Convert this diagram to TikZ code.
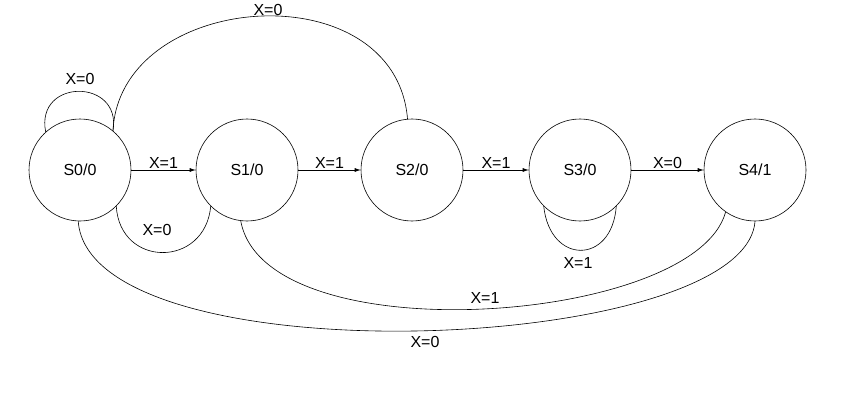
\documentclass[tikz,border=0pt]{standalone}
\usepackage{fontspec}
\setmainfont{Liberation Sans}
\usetikzlibrary{arrows.meta}
\begin{document}
\begin{tikzpicture}[x=1pt,y=-1pt,
  st/.style={circle,draw,minimum size=102pt,inner sep=0pt,font=\fontsize{16}{18}\selectfont},
  lbl/.style={font=\fontsize{16}{18}\selectfont,inner sep=1pt},
  ar/.style={-{Latex[length=6pt,width=4pt]}},
  every path/.style={line width=0.6pt}]
\useasboundingbox (0,0) rectangle (845,401);
\node[st] (s0) at (80,170) {S0/0};
\node[st] (s1) at (247,170) {S1/0};
\node[st] (s2) at (412,170) {S2/0};
\node[st] (s3) at (580,170) {S3/0};
\node[st] (s4) at (755,170) {S4/1};
\draw[ar] (s0) -- node[lbl,above]{X=1} (s1);
\draw[ar] (s1) -- node[lbl,above]{X=1} (s2);
\draw[ar] (s2) -- node[lbl,above]{X=1} (s3);
\draw[ar] (s3) -- node[lbl,above]{X=0} (s4);
% S0 self loop
\draw (s0.132) .. controls (35,78) and (122,78) .. (s0.50);
\node[lbl] (l1) at (80,79) {X=0};
% S0-S1 lower loop
\draw (s0.-45) .. controls (120,268) and (205,268) .. (s1.-135);
\node[lbl] (l2) at (157,230) {X=0};
% S2 to S0 arc
\draw (s2.95) .. controls (395,-30) and (120,-10) .. (s0.50);
\node[lbl] (l3) at (268,10) {X=0};
% S3 self loop
\draw (s3.-135) .. controls (550,265) and (612,265) .. (s3.-45);
\node[lbl] (l4) at (578,263) {X=1};
% S1 to S4
\draw (s1.-97) .. controls (265,355) and (695,325) .. (s4.-125);
\node[lbl] (l5) at (485,298) {X=1};
% S4 to S0
\draw (s4.-90) .. controls (745,355) and (90,380) .. (s0.-92);
\node[lbl] (l6) at (425,342) {X=0};
\end{tikzpicture}
\end{document}
